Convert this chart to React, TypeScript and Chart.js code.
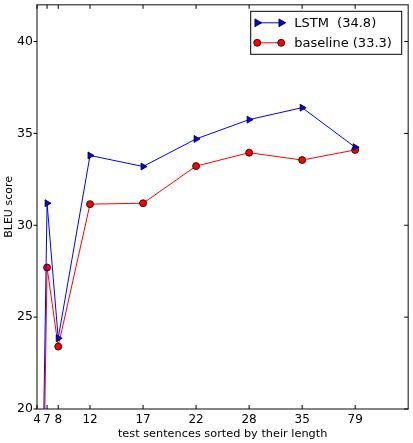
import React, { useEffect, useRef } from 'react';
import { Chart, registerables } from 'chart.js';
Chart.register(...registerables);

// Position of each bucket along the sorted test set, and the sentence length shown there
const sentencePositions = [0, 95, 200, 500, 1000, 1500, 2000, 2500, 3000];
const lengthLabels = ['4', '7', '8', '12', '17', '22', '28', '35', '79'];
const lstmScores = [-4, 31.2, 23.85, 33.8, 33.2, 34.7, 35.75, 36.4, 34.25];
const baselineScores = [-7, 27.7, 23.4, 31.15, 31.2, 33.22, 33.95, 33.55, 34.1];
const yTickValues = [20, 25, 30, 35, 40];
const seriesNames = ['LSTM  (34.8)', 'baseline (33.3)'];

const FONT = 'DejaVu Sans';

function drawTriangle(ctx: CanvasRenderingContext2D, x: number, y: number, r: number) {
  ctx.beginPath();
  ctx.moveTo(x + r, y);
  ctx.lineTo(x - r * 0.5, y - r * 0.866);
  ctx.lineTo(x - r * 0.5, y + r * 0.866);
  ctx.closePath();
  ctx.fillStyle = '#0000ff';
  ctx.fill();
  ctx.strokeStyle = '#000';
  ctx.lineWidth = 0.8;
  ctx.stroke();
}

function drawCircle(ctx: CanvasRenderingContext2D, x: number, y: number, r: number) {
  ctx.beginPath();
  ctx.arc(x, y, r, 0, Math.PI * 2);
  ctx.fillStyle = '#ff0000';
  ctx.fill();
  ctx.strokeStyle = '#000';
  ctx.lineWidth = 0.8;
  ctx.stroke();
}

const framePlugin = {
  id: 'frame',
  afterDraw(chart: any) {
    const { ctx, chartArea } = chart;
    const { left, right, top, bottom } = chartArea;
    const xs = chart.scales.x;
    const ys = chart.scales.y;
    ctx.save();
    ctx.strokeStyle = '#333';
    ctx.lineWidth = 1.2;
    ctx.strokeRect(left, top, right - left, bottom - top);
    ctx.lineWidth = 1;
    ctx.strokeStyle = '#000';
    ctx.beginPath();
    sentencePositions.forEach((v) => {
      const px = xs.getPixelForValue(v);
      ctx.moveTo(px, bottom);
      ctx.lineTo(px, bottom - 4);
      ctx.moveTo(px, top);
      ctx.lineTo(px, top + 4);
    });
    yTickValues.forEach((v) => {
      const py = ys.getPixelForValue(v);
      ctx.moveTo(left, py);
      ctx.lineTo(left - 3.5, py);
      ctx.moveTo(right, py);
      ctx.lineTo(right - 4, py);
    });
    ctx.stroke();
    ctx.restore();
  },
};

const legendPlugin = {
  id: 'customLegend',
  afterDraw(chart: any) {
    const { ctx, chartArea } = chart;
    const boxRight = chartArea.right - 7;
    const boxLeft = boxRight - 151;
    const boxTop = chartArea.top + 6;
    const boxH = 43;
    ctx.save();
    ctx.fillStyle = '#fff';
    ctx.fillRect(boxLeft, boxTop, boxRight - boxLeft, boxH);
    ctx.strokeStyle = '#000';
    ctx.lineWidth = 1;
    ctx.strokeRect(boxLeft + 0.5, boxTop + 0.5, boxRight - boxLeft, boxH);
    const rows = [boxTop + 12, boxTop + 32];
    const x1 = boxLeft + 7;
    const x2 = boxLeft + 31;
    rows.forEach((y, i) => {
      ctx.beginPath();
      ctx.moveTo(x1, y);
      ctx.lineTo(x2, y);
      ctx.strokeStyle = i === 0 ? '#0000ff' : '#ff0000';
      ctx.lineWidth = 1;
      ctx.stroke();
      if (i === 0) {
        drawTriangle(ctx, x1, y, 4.5);
        drawTriangle(ctx, x2, y, 4.5);
      } else {
        drawCircle(ctx, x1, y, 3.5);
        drawCircle(ctx, x2, y, 3.5);
      }
      ctx.fillStyle = '#000';
      ctx.font = `13px "${FONT}"`;
      ctx.textBaseline = 'middle';
      ctx.textAlign = 'left';
      ctx.fillText(seriesNames[i], boxLeft + 44, y + 1);
    });
    ctx.restore();
  },
};

export default function App() {
  const ref = useRef<HTMLCanvasElement>(null);
  useEffect(() => {
    if (!ref.current) return;
    const chart = new Chart(ref.current, {
      type: 'line',
      data: {
        datasets: [
          {
            label: seriesNames[0],
            data: sentencePositions.map((x, i) => ({ x, y: lstmScores[i] })),
            borderColor: '#0000ff',
            backgroundColor: '#0000ff',
            borderWidth: 1,
            pointStyle: 'triangle',
            pointRotation: 90,
            pointRadius: 4,
            pointBorderColor: '#000',
            pointBorderWidth: 0.8,
            pointBackgroundColor: '#0000ff',
            tension: 0,
          },
          {
            label: seriesNames[1],
            data: sentencePositions.map((x, i) => ({ x, y: baselineScores[i] })),
            borderColor: '#ff0000',
            backgroundColor: '#ff0000',
            borderWidth: 1,
            pointStyle: 'circle',
            pointRadius: 3.5,
            pointBorderColor: '#000',
            pointBorderWidth: 0.8,
            pointBackgroundColor: '#ff0000',
            tension: 0,
          },
        ],
      },
      options: {
        animation: false,
        responsive: false,
        events: [],
        layout: { padding: { top: 4, right: 4, left: 0, bottom: 0 } },
        plugins: { legend: { display: false }, tooltip: { enabled: false } },
        scales: {
          x: {
            type: 'linear',
            min: 0,
            max: 3500,
            grid: { display: false, drawTicks: false },
            border: { display: false },
            afterBuildTicks: (s: any) => {
              s.ticks = sentencePositions.map((v) => ({ value: v }));
            },
            afterFit: (s: any) => {
              s.height = 34;
              s.paddingLeft = 0;
              s.paddingRight = 0;
            },
            ticks: {
              autoSkip: false,
              maxRotation: 0,
              minRotation: 0,
              padding: 4,
              color: '#000',
              font: { family: FONT, size: 12 },
              callback: (_v: any, i: number) => lengthLabels[i],
            },
            title: {
              display: true,
              text: 'test sentences sorted by their length',
              color: '#000',
              font: { family: FONT, size: 11.3, lineHeight: 1.2 },
              padding: { top: 0, bottom: 2 },
            },
          },
          y: {
            type: 'linear',
            min: 20,
            max: 42,
            grid: { display: false, drawTicks: false },
            border: { display: false },
            afterBuildTicks: (s: any) => {
              s.ticks = yTickValues.map((v) => ({ value: v }));
            },
            afterFit: (s: any) => {
              s.width = 37;
              s.paddingTop = 0;
              s.paddingBottom = 0;
            },
            ticks: {
              padding: 4,
              color: '#000',
              font: { family: FONT, size: 12.5 },
            },
            title: {
              display: true,
              text: 'BLEU score',
              color: '#000',
              font: { family: FONT, size: 11, lineHeight: 1.2 },
              padding: { top: 3, bottom: 0 },
            },
          },
        },
      },
      plugins: [framePlugin, legendPlugin],
    } as any);
    return () => chart.destroy();
  }, []);
  return (
    <div style={{ position: 'fixed', left: 0, top: 0, width: 413, height: 443, background: '#fff' }}>
      <canvas ref={ref} width={413} height={443} style={{ width: 413, height: 443 }} />
    </div>
  );
}
